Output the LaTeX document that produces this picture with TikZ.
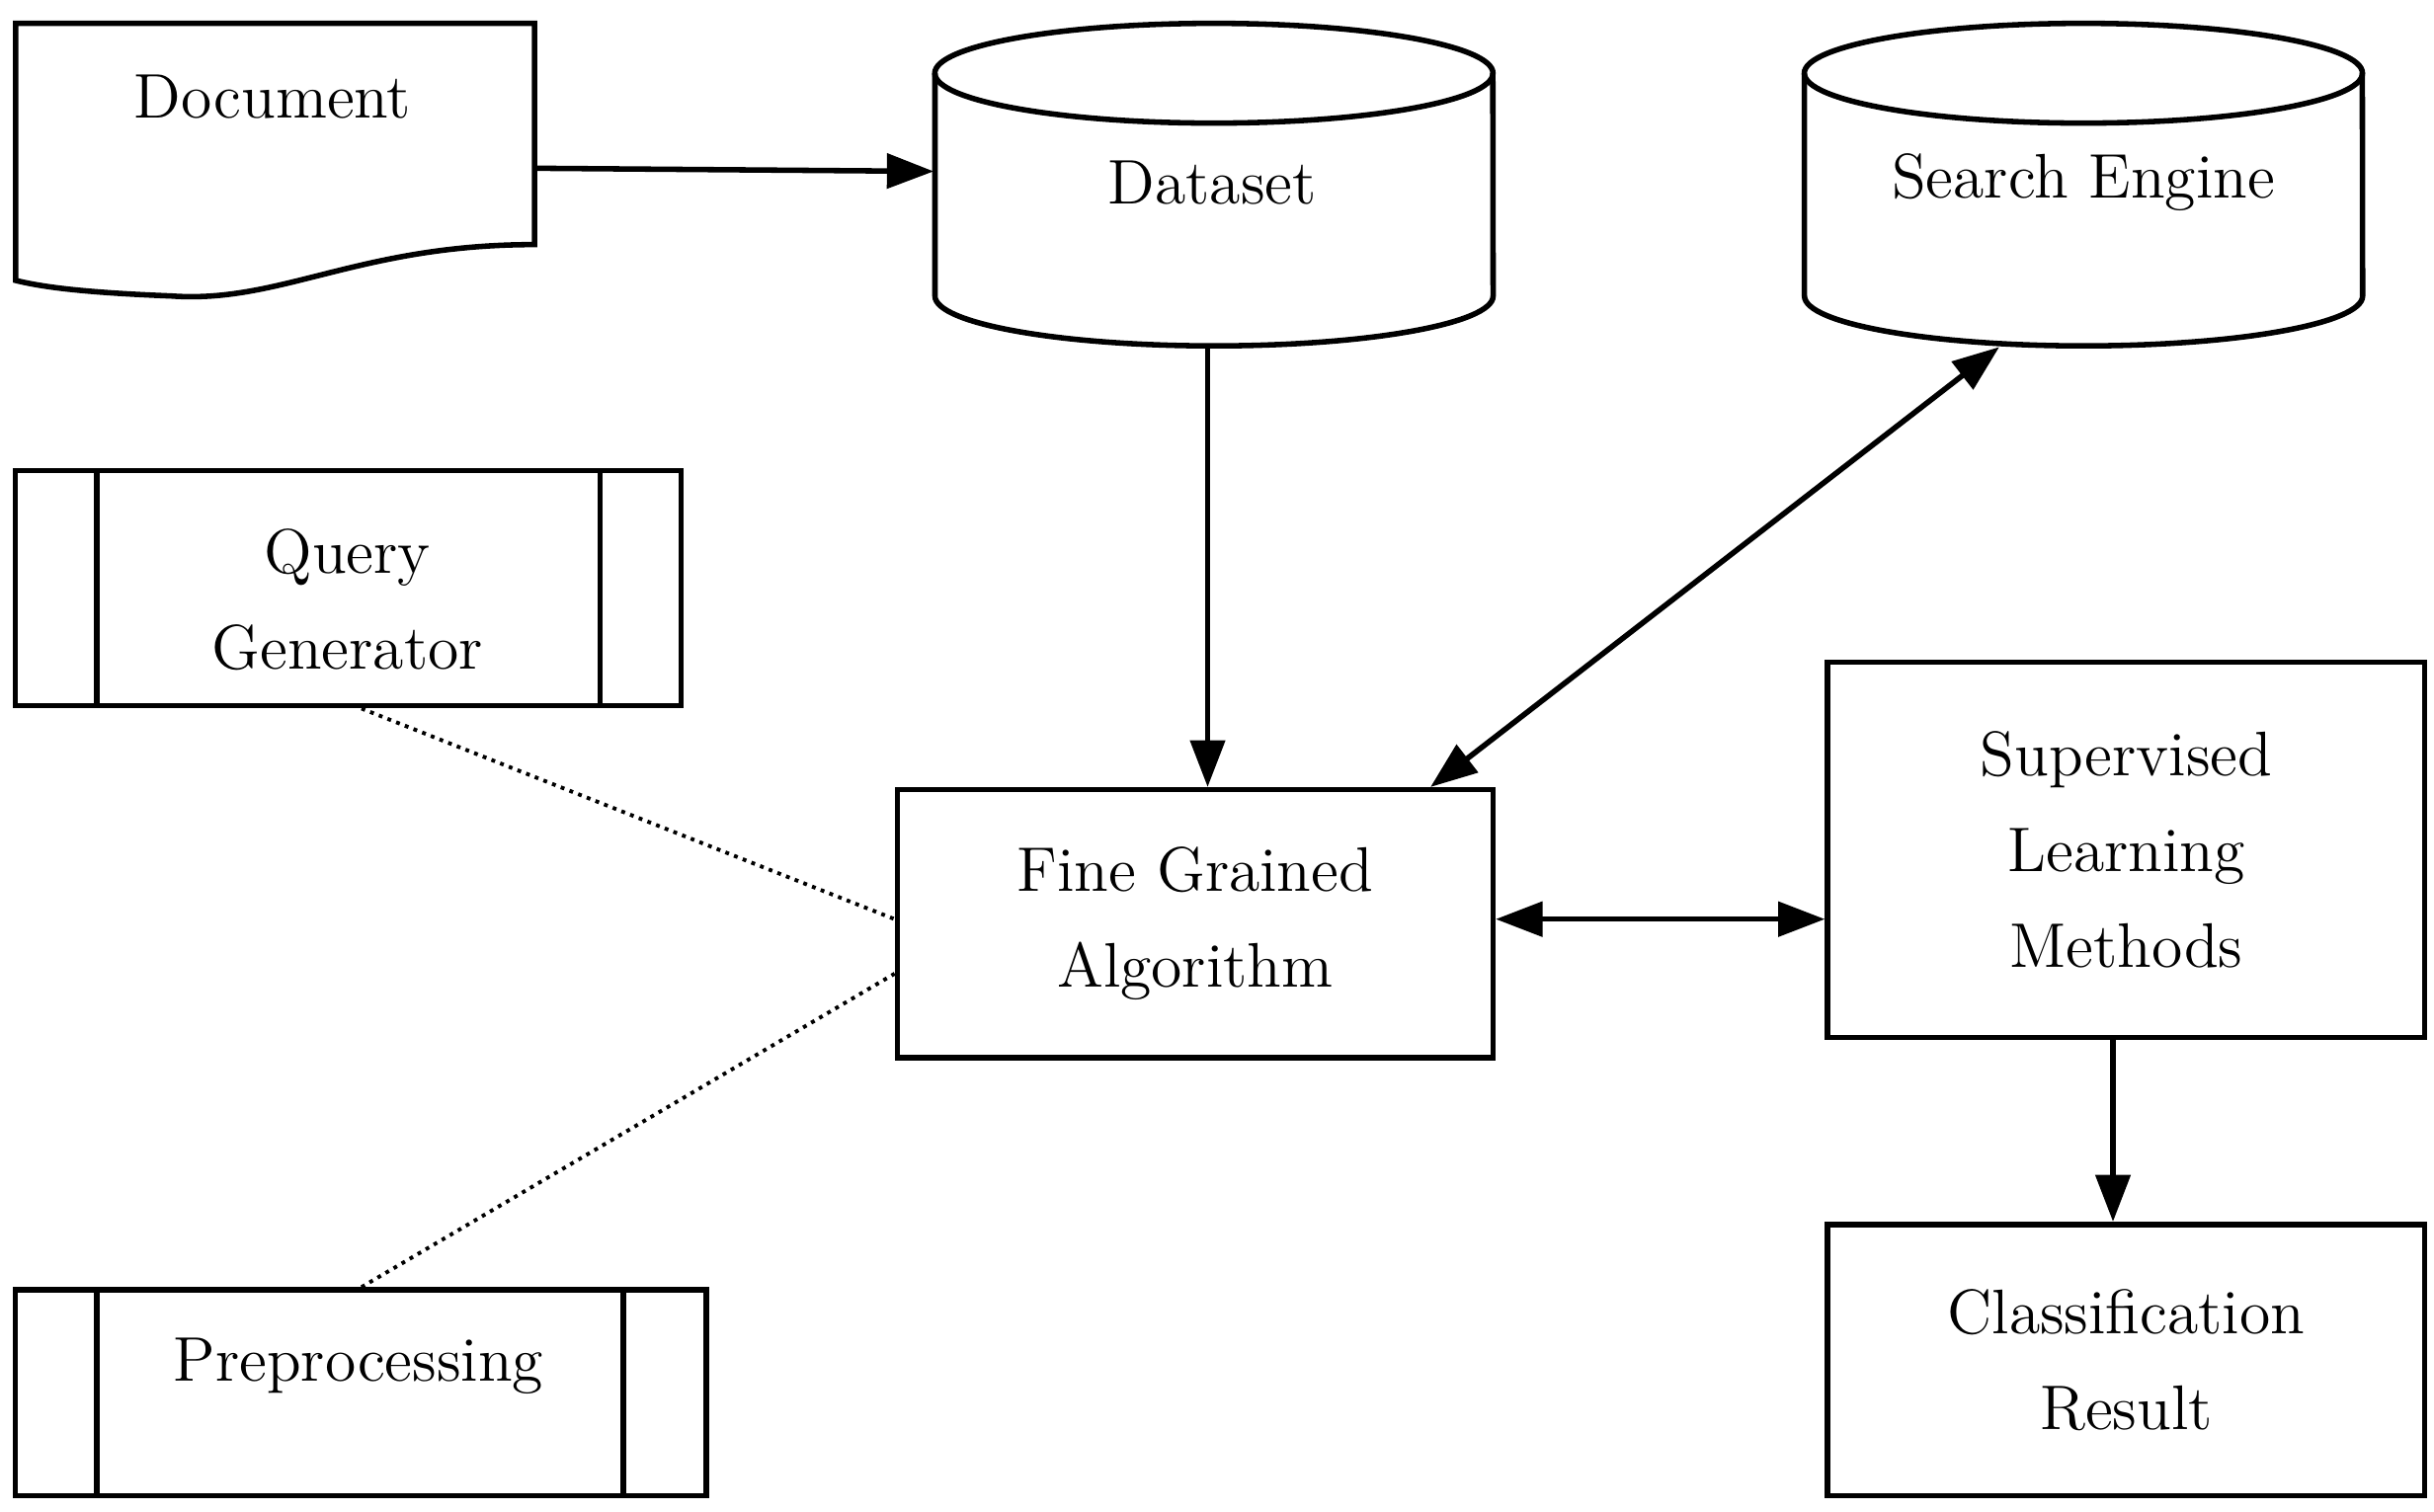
\documentclass[tikz,border=0pt]{standalone}
\usepackage{tikz}
\usetikzlibrary{arrows.meta}
\usetikzlibrary{positioning}
\tikzset{
  box/.style={rectangle, draw=black, line width=1pt, inner sep=0pt},
  ghost/.style={rectangle, inner sep=0pt},
  lbl/.style={align=center, font=\fontsize{11.5}{17.5}\selectfont},
  arr/.style={line width=1pt, -{Triangle[length=0.3cm,width=0.22cm]}},
  darr/.style={line width=1pt, {Triangle[length=0.3cm,width=0.22cm]}-{Triangle[length=0.3cm,width=0.22cm]}},
  dots/.style={line width=0.7pt, densely dotted}
}
\begin{document}
\begin{tikzpicture}[x=0.01cm, y=-0.01cm]
\useasboundingbox (0,0) rectangle (1562,970);
% document
\draw [line width=1pt] (10,15) -- (343,15) -- (343,157) .. controls (230,157) and (180,195) .. (110,190) .. controls (60,188) and (30,185) .. (10,180) -- cycle;
\node [ghost, minimum width=3.33cm, minimum height=1.65cm] (doc) at (176.5,97.5) {};
\node [lbl] at (175,62) {Document};
% cylinders
\foreach \cx/\nm in {779/data, 1337/search} {
  \draw [line width=1pt] (\cx-179,47) -- (\cx-179,190) arc [start angle=180, end angle=360, x radius=1.79cm, y radius=0.32cm] -- (\cx+179,47);
  \draw [line width=1pt] (\cx,47) ellipse [x radius=1.79cm, y radius=0.32cm];
  \node [ghost, minimum width=3.58cm, minimum height=2.07cm] (\nm) at (\cx,118.5) {};
}
\node [lbl] at (778,117) {Dataset};
\node [lbl] at (1337,117) {Search Engine};
% predefined processes
\node [box, minimum width=4.27cm, minimum height=1.51cm] (query) at (223.5,377.5) {};
\draw [line width=1pt] (62,302) -- (62,453) (385,302) -- (385,453);
\node [lbl] at (223,385) {Query\\Generator};
\node [box, minimum width=4.43cm, minimum height=1.32cm] (prep) at (231.5,894) {};
\draw [line width=1pt] (62,828) -- (62,960) (400,828) -- (400,960);
\node [lbl] at (230,877) {Preprocessing};
% process boxes
\node [box, lbl, minimum width=3.82cm, minimum height=1.72cm] (fine) at (767,593) {Fine Grained\\Algorithm};
\node [box, lbl, minimum width=3.83cm, minimum height=2.41cm] (super) at (1364.5,545.5) {Supervised\\Learning\\Methods};
\node [box, lbl, minimum width=3.83cm, minimum height=1.74cm] (class) at (1364.5,873) {Classification\\Result};
% connectors
\draw [arr] (doc.east |- 0,108) -- (data.west |- 0,110);
\draw [arr] (data.south -| 775,0) -- (fine.north -| 775,0);
\draw [darr] (search.south -| 1283,0) -- (fine.north -| 918,0);
\draw [darr] (fine.east |- 0,590) -- (super.west |- 0,590);
\draw [arr] (super.south -| 1356,0) -- (class.north -| 1356,0);
\draw [dots] (query.south -| 232,0) -- (fine.west |- 0,590);
\draw [dots] (prep.north -| 232,0) -- (fine.west |- 0,625);
\end{tikzpicture}
\end{document}
